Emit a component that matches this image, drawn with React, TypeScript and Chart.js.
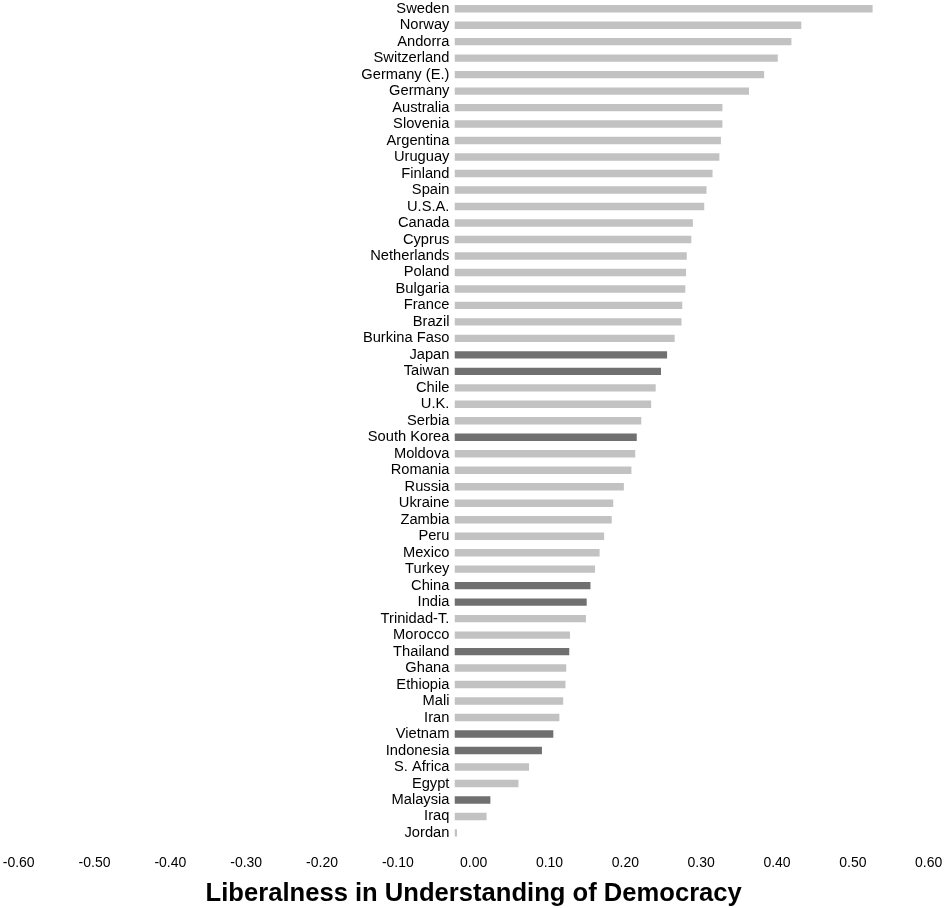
import { useEffect, useRef } from 'react'
import { Chart, registerables } from 'chart.js'

Chart.register(...registerables)

const countries = [
  'Sweden', 'Norway', 'Andorra', 'Switzerland', 'Germany (E.)', 'Germany',
  'Australia', 'Slovenia', 'Argentina', 'Uruguay', 'Finland', 'Spain',
  'U.S.A.', 'Canada', 'Cyprus', 'Netherlands', 'Poland', 'Bulgaria',
  'France', 'Brazil', 'Burkina Faso', 'Japan', 'Taiwan', 'Chile', 'U.K.',
  'Serbia', 'South Korea', 'Moldova', 'Romania', 'Russia', 'Ukraine',
  'Zambia', 'Peru', 'Mexico', 'Turkey', 'China', 'India', 'Trinidad-T.',
  'Morocco', 'Thailand', 'Ghana', 'Ethiopia', 'Mali', 'Iran', 'Vietnam',
  'Indonesia', 'S. Africa', 'Egypt', 'Malaysia', 'Iraq', 'Jordan',
]

const liberalness = [
  0.551, 0.457, 0.444, 0.426, 0.408, 0.388,
  0.353, 0.353, 0.351, 0.349, 0.340, 0.332,
  0.329, 0.314, 0.312, 0.306, 0.305, 0.304,
  0.300, 0.299, 0.290, 0.280, 0.272, 0.265, 0.259,
  0.246, 0.240, 0.238, 0.233, 0.223, 0.209,
  0.207, 0.197, 0.191, 0.185, 0.179, 0.174, 0.173,
  0.152, 0.151, 0.147, 0.146, 0.143, 0.138, 0.130,
  0.115, 0.098, 0.084, 0.047, 0.042, 0.003,
]

// paises asiaticos destacados em cinza escuro
const highlighted = [
  'Japan', 'Taiwan', 'South Korea', 'China', 'India', 'Thailand',
  'Vietnam', 'Indonesia', 'Malaysia',
]

const axisMin = -0.6
const axisMax = 0.6
const axisStep = 0.1

const FONT = '"Liberation Sans", Arial, Helvetica, sans-serif'

export default function App() {
  const chartRef = useRef<HTMLCanvasElement>(null)
  const chartInstance = useRef<Chart | null>(null)

  useEffect(() => {
    if (!chartRef.current) return
    if (chartInstance.current) {
      chartInstance.current.destroy()
    }
    const ctx = chartRef.current.getContext('2d')
    if (!ctx) return

    chartInstance.current = new Chart(ctx, {
      type: 'bar',
      data: {
        labels: countries,
        datasets: [
          {
            label: 'Liberalness',
            data: liberalness,
            backgroundColor: countries.map((c) =>
              highlighted.includes(c) ? '#707070' : '#c2c2c2'
            ),
            borderWidth: 0,
            barPercentage: 0.45,
            categoryPercentage: 1,
            xAxisID: 'x',
            yAxisID: 'y',
          },
        ],
      },
      options: {
        indexAxis: 'y',
        animation: false,
        responsive: true,
        maintainAspectRatio: false,
        layout: {
          padding: { left: 18.7, right: 15.3, top: 0.45, bottom: 0 },
        },
        plugins: {
          legend: { display: false },
          tooltip: { enabled: false },
        },
        scales: {
          // eixo escondido onde as barras sao desenhadas
          x: {
            type: 'linear',
            display: false,
            min: -0.575,
            max: 0.625,
          },
          // eixo visivel so com os rotulos
          xTicks: {
            type: 'linear',
            position: 'bottom',
            min: axisMin,
            max: axisMax,
            grid: { display: false, drawTicks: false },
            border: { display: false },
            ticks: {
              stepSize: axisStep,
              padding: 0,
              color: '#000',
              font: { family: FONT, size: 14, lineHeight: 3.19 },
              callback: (v: any) => Number(v).toFixed(2),
            },
            title: {
              display: true,
              text: 'Liberalness in Understanding of Democracy',
              color: '#000',
              font: { family: FONT, size: 25.6, weight: 'bold', lineHeight: 0.64 },
              padding: { top: 0, bottom: 5.8 },
            },
          },
          y: {
            type: 'category',
            position: { x: -0.007 } as any,
            grid: { display: false, drawTicks: false },
            border: { display: false },
            ticks: {
              padding: 0,
              autoSkip: false,
              color: '#000',
              font: { family: FONT, size: 14.7, lineHeight: 0.01 },
            },
          },
        },
      },
    })

    return () => {
      if (chartInstance.current) {
        chartInstance.current.destroy()
        chartInstance.current = null
      }
    }
  }, [])

  return (
    <div style={{ position: 'absolute', left: 0, top: 0, width: 944, height: 908 }}>
      <canvas ref={chartRef} />
    </div>
  )
}
